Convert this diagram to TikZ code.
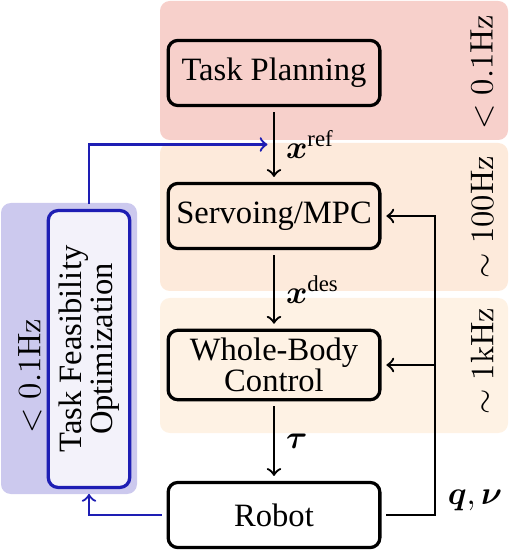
\documentclass[tikz,border=0pt]{standalone}
\usepackage[no-math]{fontspec}
\setmainfont{Liberation Serif}
\usepackage{amsmath}
\usepackage{bm}
\usetikzlibrary{calc}

\definecolor{slowred}{RGB}{247,208,203}
\definecolor{midorange}{RGB}{253,234,219}
\definecolor{fastorange}{RGB}{254,242,228}
\definecolor{feaspurple}{RGB}{204,201,238}
\definecolor{feasfill}{RGB}{243,242,250}
\definecolor{feasblue}{RGB}{30,30,180}

\tikzset{
  block/.style={draw, line width=1pt, rounded corners=3pt, minimum width=65pt, minimum height=20pt,
    inner sep=2.3pt, outer sep=2pt, align=center, font=\fontsize{10pt}{9.7pt}\selectfont},
  band/.style={rounded corners=3pt},
  rate/.style={rotate=90},
  flow/.style={->, line width=0.7pt},
  feas/.style={->, line width=0.7pt, feasblue},
}

\begin{document}
\begin{tikzpicture}[x=0.307pt, y=-0.307pt]
  \useasboundingbox (0,0) rectangle (510,550);

  % Draw the rate bands
  \fill[band, slowred] (160,1) rectangle (508,140);
  \fill[band, midorange] (160,143) rectangle (508,291);
  \fill[band, fastorange] (160,298) rectangle (508,433);
  \fill[band, feaspurple] (1,203) rectangle (137,494);

  % The control blocks
  \node[block] (plan) at (274,73) {Task Planning};
  \node[block] (servo) at (274,216) {Servoing/MPC};
  \node[block] (wbc) at (274,365) {Whole-Body\\Control};
  \node[block, fill=white] (robot) at (274,515) {Robot};
  \node[block, draw=feasblue, fill=feasfill, rotate=90, minimum width=85pt, minimum height=25pt]
    (tfo) at (89,349) {Task Feasibility\\Optimization};

  % Rates
  \node[rate] (rplan) at (482,72) {$<0.1\mathrm{Hz}$};
  \node[rate] (rservo) at (482,217) {$\sim 100\mathrm{Hz}$};
  \node[rate] (rwbc) at (482,361) {$\sim 1\mathrm{kHz}$};
  \node[rate] (rfeas) at (30,376) {$<0.1\mathrm{Hz}$};

  % Forward path
  \draw[flow] (plan) -- (servo) node[midway, right] {$\bm{x}^{\text{ref}}$};
  \draw[flow] (servo) -- (wbc) node[midway, right] {$\bm{x}^{\text{des}}$};
  \draw[flow] (wbc) -- (robot) node[midway, right] {$\bm{\tau}$};

  % Feedback of the robot state
  \coordinate (fbx) at (435,0);
  \draw[flow] (robot.east) -| (fbx |- servo.east) -- (servo.east);
  \draw[flow] (fbx |- wbc.east) -- (wbc.east);
  \node (state) at (475,500) {$\bm{q},\bm{\nu}$};

  % Feasibility loop
  \coordinate (refmid) at ($(plan.south)!0.5!(servo.north)$);
  \draw[feas] (robot.west) -| (tfo.west);
  \draw[feas, shorten >=2pt] (tfo.east) |- (refmid);
\end{tikzpicture}
\end{document}
